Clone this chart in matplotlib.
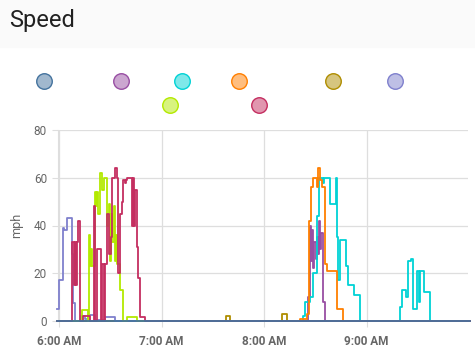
import matplotlib
matplotlib.use("Agg")
import matplotlib.pyplot as plt
from matplotlib.patches import Rectangle

plt.rcParams["font.family"] = ["Roboto", "DejaVu Sans"]

# minutes after 6:00 AM, speed in mph (step data)
COLORS = ["#44739e", "#984ea3", "#00d2d5", "#ff7f00",
          "#af8d00", "#7f80cd", "#b3e900", "#c42e60"]

steel_t = [-1]
steel_v = [0]

purple_t = [-1, 145.8, 146.8, 147.5, 148.2, 148.8, 149.5, 150.2, 151.0,
            151.6, 152.3, 153.0, 153.6, 154.3, 154.8, 155.6]
purple_v = [0, 10, 40, 25, 38, 22, 33, 26, 35, 28, 42, 30, 37, 22, 8, 0]

cyan_t = [-1, 143, 144.2, 146.8, 148.8, 150.8, 151.9, 154.5, 155.2, 158.5,
          162.0, 162.8, 163.5, 164.4, 167.9, 169.2, 172.8, 176.0,
          199.5, 200.5, 203.0, 204.2, 205.9, 207.0, 209.3, 210.7, 211.1,
          213.9, 217.0]
cyan_v = [0, 2, 8, 10, 20, 44, 60, 58, 60, 49,
          60, 35, 17, 34, 23, 15, 11, 0,
          6, 13, 10, 25, 26, 5, 21, 8, 21,
          12, 0]

orange_t = [-1, 141, 145.4, 146.5, 147.6, 148.4, 151.1, 151.6, 153.0,
            154.2, 155.4, 157.0, 162.8, 166.3]
orange_v = [0, 1, 3, 42, 56, 60, 56, 64, 59, 56, 24, 21, 5, 0]

olive_t = [-1, 98, 99.8, 130.8, 133.2]
olive_v = [0, 2, 0, 3, 0]

lavender_t = [-1, -0.3, 2.1, 3.0, 4.5, 7.4, 8.4, 9.4, 13, 15, 17, 21, 27, 33]
lavender_v = [5, 17, 39, 38, 43, 28, 7.5, 0, 2, 1, 2.5, 0.5, 1.5, 0]

lime_t = [-1, 13.3, 17.1, 17.7, 18.2, 18.7, 19.3, 21.0, 21.6, 22.3, 23.0,
          24.0, 25.3, 26.3, 28.3, 29.0, 29.8, 30.5, 31.2, 32.0, 32.8, 33.5,
          34.2, 35.7, 37.2, 40.0, 45.4]
lime_v = [0, 4.5, 0, 36, 23, 30, 23, 54, 48, 54, 45,
          62, 55, 60, 40, 49, 25, 45, 33, 48, 25, 36,
          24, 13, 0, 1.5, 0]

crimson_t = [-1, 7.6, 8.8, 9.4, 10.0, 10.5, 11.0, 12.3, 14, 18, 20.7, 21.3,
             22.2, 24.6, 25.2, 26.6, 27.0, 28.0, 29.2, 30.2,
             30.8, 32.8, 33.7, 34.8, 35.5, 36.7, 37.6, 38.6, 39.3, 40.0,
             42.5, 43.2, 43.8, 44.5, 45.4, 46.4, 47.4, 50.3]
crimson_v = [0, 33, 15, 33, 15, 33, 42, 0, 2, 0, 48, 0,
             30, 0, 24, 0, 24, 45, 28, 35,
             60, 64, 60, 20, 45, 50, 59, 58, 59, 60,
             40, 60, 40, 55, 31, 18, 1.5, 0]

SERIES = [
    (steel_t, steel_v), (purple_t, purple_v), (cyan_t, cyan_v),
    (orange_t, orange_v), (olive_t, olive_v), (lavender_t, lavender_v),
    (lime_t, lime_v), (crimson_t, crimson_v),
]

X_TICKS = [0, 60, 120, 180]
X_LABELS = ["6:00 AM", "7:00 AM", "8:00 AM", "9:00 AM"]
Y_TICKS = [0, 20, 40, 60, 80]
X_END = 239.4

# legend circle centres in pixels
LEGEND_XY = [(44, 81), (121, 81), (182, 81), (239, 81),
             (333, 81), (395, 81), (170, 105), (259, 105)]

W, H = 475, 354
fig = plt.figure(figsize=(W / 100, H / 100), dpi=100)

# header bar
fig.patches.append(Rectangle((0, 1 - 47 / H), 1, 47 / H,
                             transform=fig.transFigure, color="#fafafa",
                             zorder=0))
fig.text(9 / W, 1 - 20 / H, "Speed", fontsize=17, color="#212121",
         va="center", ha="left")

# legend overlay
lax = fig.add_axes([0, 0, 1, 1])
lax.set_xlim(0, W)
lax.set_ylim(H, 0)
lax.axis("off")
for (x, y), c in zip(LEGEND_XY, COLORS):
    lax.scatter([x], [y], s=125, facecolor=matplotlib.colors.to_rgba(c, 0.5),
                edgecolor=c, linewidth=1)

ax = fig.add_axes([58 / W, (H - 321) / H, 410 / W, 191 / H])
for i, ((t, v), c) in enumerate(zip(SERIES, COLORS)):
    tt = list(t) + [X_END + 1]
    vv = list(v) + [v[-1]]
    # the flat grey-blue series sits on top of the zero line
    z = 5 if i == 0 else 3
    ax.step(tt, vv, where="post", color=c, lw=1.3, clip_on=False, zorder=z)

ax.set_xlim(-0.6, X_END)
ax.set_ylim(0, 80)
ax.set_xticks(X_TICKS)
ax.set_xticklabels(X_LABELS, fontweight="bold")
ax.set_yticks(Y_TICKS)
ax.grid(True, color="#dedede", lw=0.9)
ax.set_axisbelow(True)
ax.tick_params(axis="both", colors="#dedede", labelcolor="#666666",
               labelsize=8.5, length=4)
ax.tick_params(axis="x", pad=6)
ax.tick_params(axis="y", pad=4)
for side in ["top", "right", "bottom"]:
    ax.spines[side].set_visible(False)
ax.spines["left"].set_color("#dedede")
ax.set_ylabel("mph", color="#666666", fontsize=9, labelpad=8)

fig.savefig("out.png", dpi=100)
